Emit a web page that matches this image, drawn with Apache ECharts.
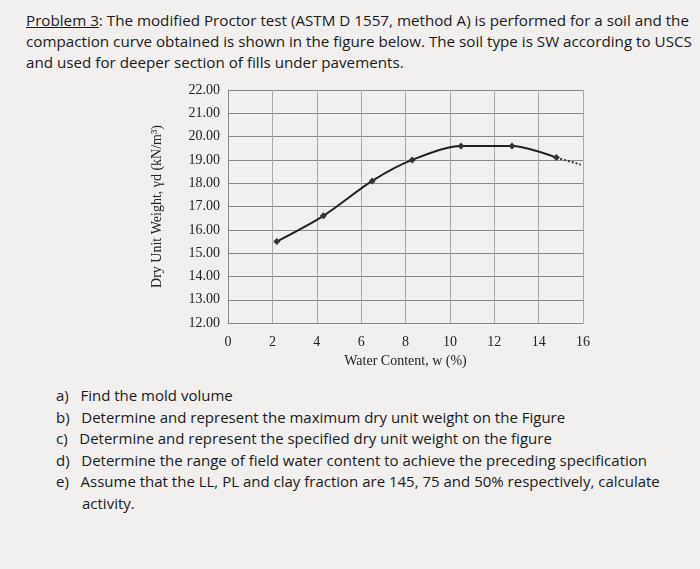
<!DOCTYPE html>
<html>
<head>
<meta charset="utf-8">
<script src="https://cdn.jsdelivr.net/npm/echarts@6/dist/echarts.min.js"></script>
<style>
    body{margin:0;width:700px;height:569px;background:#f1f0ee;font-family:"Open Sans",sans-serif;color:#1a1a1a;overflow:hidden;position:relative}
    .top{position:absolute;left:26px;top:10px;width:672px;font-size:15.2px;line-height:21px}
    .top u{text-decoration:underline}
    #main{position:absolute;left:140px;top:78px;width:480px;height:295px}
    .qs{position:absolute;left:56px;top:385px;width:640px;font-size:15px;line-height:21.5px;margin:0;padding:0;list-style:none}
    .qs li{padding-left:26px;text-indent:-26px}
</style>
</head>
<body>
<div class="top"><u>Problem 3</u>: The modified Proctor test (ASTM D 1557, method A) is performed for a soil and the compaction curve obtained is shown in the figure below. The soil type is SW according to USCS and used for deeper section of fills under pavements.</div>
<div id="main"></div>
<ul class="qs">
    <li>a)&nbsp;&nbsp; Find the mold volume</li>
    <li>b)&nbsp;&nbsp; Determine and represent the maximum dry unit weight on the Figure</li>
    <li>c)&nbsp;&nbsp; Determine and represent the specified dry unit weight on the figure</li>
    <li>d)&nbsp;&nbsp; Determine the range of field water content to achieve the preceding specification</li>
    <li>e)&nbsp;&nbsp; Assume that the LL, PL and clay fraction are 145, 75 and 50% respectively, calculate activity.</li>
</ul>
<script>
    // compaction curve points
    var waterContent = [2.2, 4.3, 6.5, 8.3, 10.5, 12.8, 14.8];
    var dryUnitWeight = [15.5, 16.6, 18.1, 19.0, 19.6, 19.6, 19.1];
    var tailW = [14.8, 15.9];
    var tailG = [19.1, 18.8];

    var pts = waterContent.map(function (w, i) { return [w, dryUnitWeight[i]]; });
    var tail = tailW.map(function (w, i) { return [w, tailG[i]]; });
    var font = '"Liberation Serif", serif';

    var myChart = echarts.init(document.getElementById('main'));
    myChart.setOption({
        animation: false,
        grid: {left: 88, right: 37, top: 12, bottom: 45},
        xAxis: {
            type: 'value', min: 0, max: 16, interval: 2,
            name: 'Water Content, w (%)', nameLocation: 'middle', nameGap: 30,
            nameTextStyle: {fontFamily: font, fontSize: 14, color: '#222'},
            axisLabel: {fontFamily: font, fontSize: 14, color: '#222', margin: 12},
            axisLine: {lineStyle: {color: '#888'}},
            axisTick: {show: false},
            splitLine: {lineStyle: {color: '#aaa'}}
        },
        yAxis: {
            type: 'value', min: 12, max: 22, interval: 1,
            name: 'Dry Unit Weight, γd (kN/m³)', nameLocation: 'middle', nameGap: 64,
            nameTextStyle: {fontFamily: font, fontSize: 14, color: '#222'},
            axisLabel: {fontFamily: font, fontSize: 14, color: '#222', formatter: function (v) { return v.toFixed(2); }},
            axisLine: {show: true, lineStyle: {color: '#888'}},
            axisTick: {show: false},
            splitLine: {lineStyle: {color: '#888'}}
        },
        series: [
            {
                type: 'line', data: pts, smooth: 0.3,
                symbol: 'diamond', symbolSize: 7,
                lineStyle: {color: '#222', width: 2},
                itemStyle: {color: '#333'}
            },
            {
                type: 'line', data: tail, symbol: 'none',
                lineStyle: {color: '#333', width: 2, type: 'dotted'}
            }
        ]
    });
</script>
</body>
</html>
